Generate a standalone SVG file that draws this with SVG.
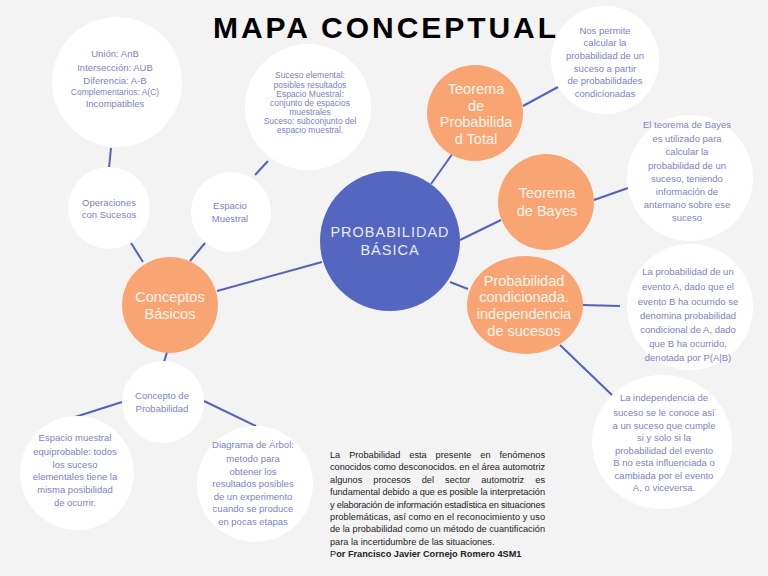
<svg xmlns="http://www.w3.org/2000/svg" width="768" height="576" viewBox="0 0 768 576">
<style>
.w{fill:#ffffff}
.o{fill:#f9a573}
.b{fill:#5566c1}
.t{font-family:"Liberation Sans",Arial,sans-serif;fill:#7d83c3;text-anchor:middle}
.s{font-size:9.5px}
.xs{font-size:8.5px}
.big{font-family:"Liberation Sans",Arial,sans-serif;fill:#fff4ec;text-anchor:middle;font-size:14.5px}
.p{font-family:"Liberation Sans",Arial,sans-serif;fill:#222222;font-size:9.2px}
#connectors line{stroke:#5462b8;stroke-width:2}
</style>
<rect width="768" height="576" fill="#f3f3f3"/>
<text x="213" y="38" font-family="Liberation Sans,Arial,sans-serif" font-weight="900" font-size="30" fill="#000" textLength="343" lengthAdjust="spacing">MAPA CONCEPTUAL</text>

<g id="connectors">
<line x1="111" y1="148" x2="109" y2="168"/>
<line x1="131" y1="243" x2="143" y2="262"/>
<line x1="205" y1="243" x2="190" y2="261"/>
<line x1="255" y1="175" x2="268" y2="161"/>
<line x1="217" y1="291" x2="322" y2="262"/>
<line x1="167" y1="352" x2="164" y2="362"/>
<line x1="122" y1="402" x2="75" y2="417"/>
<line x1="204" y1="401" x2="256" y2="426"/>
<line x1="431" y1="184" x2="453" y2="153"/>
<line x1="523" y1="106" x2="558" y2="87"/>
<line x1="460" y1="240" x2="501" y2="220"/>
<line x1="594" y1="200" x2="628" y2="188"/>
<line x1="450" y1="282" x2="468" y2="289"/>
<line x1="582" y1="305" x2="620" y2="306"/>
<line x1="560" y1="345" x2="613" y2="396"/>
</g>

<g id="union">
<circle class="w" cx="117" cy="82" r="65"/>
<text class="t s" x="115" y="57">Unión: AnB</text>
<text class="t s" x="115" y="71">Intersección: AUB</text>
<text class="t s" x="115" y="84">Diferencia: A-B</text>
<text class="t xs" x="115" y="95">Complementarios: A(C)</text>
<text class="t s" x="115" y="107">Incompatibles</text>
</g>

<g id="suceso">
<circle class="w" cx="308" cy="107" r="63"/>
<text class="t xs" x="310" y="78">Suceso elemental:</text>
<text class="t xs" x="310" y="88">posibles resultados</text>
<text class="t xs" x="310" y="97">Espacio Muestral:</text>
<text class="t xs" x="310" y="106">conjunto de espacios</text>
<text class="t xs" x="310" y="115">muestrales</text>
<text class="t xs" x="310" y="124">Suceso: subconjunto del</text>
<text class="t xs" x="310" y="133">espacio muestral.</text>
</g>

<g id="operaciones">
<circle class="w" cx="109" cy="208" r="41"/>
<text class="t s" x="109" y="206">Operaciones</text>
<text class="t s" x="109" y="218">con Sucesos</text>
</g>

<g id="espacio">
<circle class="w" cx="231" cy="212" r="40"/>
<text class="t s" x="230" y="209">Espacio</text>
<text class="t s" x="230" y="222">Muestral</text>
</g>

<g id="conceptos">
<circle class="o" cx="170" cy="305" r="48"/>
<text class="big" x="170" y="302">Conceptos</text>
<text class="big" x="170" y="319">Básicos</text>
</g>

<g id="concepto-prob">
<circle class="w" cx="163" cy="402" r="41"/>
<text class="t s" x="162" y="399">Concepto de</text>
<text class="t s" x="162" y="412">Probabilidad</text>
</g>

<g id="equiprobable">
<circle class="w" cx="77" cy="473" r="57"/>
<text class="t s" x="75" y="441">Espacio muestral</text>
<text class="t s" x="75" y="455">equiprobable: todos</text>
<text class="t s" x="75" y="468">los suceso</text>
<text class="t s" x="75" y="480">elementales tiene la</text>
<text class="t s" x="75" y="493">misma posibilidad</text>
<text class="t s" x="75" y="506">de ocurrir.</text>
</g>

<g id="arbol">
<circle class="w" cx="255" cy="484" r="58"/>
<text class="t s" x="253" y="448">Diagrama de Árbol:</text>
<text class="t s" x="253" y="462">metodo para</text>
<text class="t s" x="253" y="475">obtener los</text>
<text class="t s" x="253" y="487">resultados posibles</text>
<text class="t s" x="253" y="500">de un experimento</text>
<text class="t s" x="253" y="512">cuando se produce</text>
<text class="t s" x="253" y="525">en pocas etapas</text>
</g>

<g id="probabilidad-basica">
<circle class="b" cx="390" cy="241" r="70"/>
<text class="big" x="390" y="237" style="fill:#e6e9f8;letter-spacing:1px">PROBABILIDAD</text>
<text class="big" x="390" y="255" style="fill:#e6e9f8;letter-spacing:1px">BÁSICA</text>
</g>

<g id="total">
<circle class="o" cx="475" cy="113" r="48"/>
<text class="big" x="476" y="94">Teorema</text>
<text class="big" x="476" y="111">de</text>
<text class="big" x="476" y="127">Probabilida</text>
<text class="big" x="476" y="144">d Total</text>
</g>

<g id="nos-permite">
<circle class="w" cx="605" cy="60" r="54"/>
<text class="t s" x="605" y="34">Nos permite</text>
<text class="t s" x="605" y="46">calcular la</text>
<text class="t s" x="605" y="59">probabilidad de un</text>
<text class="t s" x="605" y="72">suceso  a partir</text>
<text class="t s" x="605" y="84">de probabilidades</text>
<text class="t s" x="605" y="97">condicionadas</text>
</g>

<g id="bayes">
<circle class="o" cx="546" cy="202" r="48"/>
<text class="big" x="547" y="198">Teorema</text>
<text class="big" x="547" y="216">de Bayes</text>
</g>

<g id="bayes-def">
<circle class="w" cx="690" cy="178" r="63"/>
<text class="t s" x="687" y="128">El teorema de Bayes</text>
<text class="t s" x="687" y="142">es utilizado para</text>
<text class="t s" x="687" y="155">calcular la</text>
<text class="t s" x="687" y="169">probabilidad de un</text>
<text class="t s" x="687" y="182">suceso, teniendo</text>
<text class="t s" x="687" y="195">información de</text>
<text class="t s" x="687" y="208">antemano sobre ese</text>
<text class="t s" x="687" y="221">suceso</text>
</g>

<g id="condicionada">
<ellipse class="o" cx="525" cy="305" rx="58" ry="49"/>
<text class="big" x="524" y="286">Probabilidad</text>
<text class="big" x="524" y="302">condicionada.</text>
<text class="big" x="524" y="319">independencia</text>
<text class="big" x="524" y="336">de sucesos</text>
</g>

<g id="condicional-def">
<circle class="w" cx="690" cy="307" r="63"/>
<text class="t s" x="688" y="275">La probabilidad de un</text>
<text class="t s" x="688" y="290">evento A, dado que el</text>
<text class="t s" x="688" y="305">evento B ha ocurrido se</text>
<text class="t s" x="688" y="319">denomina probabilidad</text>
<text class="t s" x="688" y="333">condicional de A, dado</text>
<text class="t s" x="688" y="347">que B ha ocurrido,</text>
<text class="t s" x="688" y="361">denotada por P(A|B)</text>
</g>

<g id="independencia-def">
<ellipse class="w" cx="662" cy="442" rx="70" ry="67"/>
<text class="t s" x="664" y="401">La independencia de</text>
<text class="t s" x="664" y="416">suceso se le conoce así</text>
<text class="t s" x="664" y="429">a un suceso que cumple</text>
<text class="t s" x="664" y="441">si y solo si la</text>
<text class="t s" x="664" y="454">probabilidad del evento</text>
<text class="t s" x="664" y="466">B no esta influenciada o</text>
<text class="t s" x="664" y="479">cambiada por el evento</text>
<text class="t s" x="664" y="491">A, o viceversa.</text>
</g>

<g id="parrafo">
<text class="p" x="330" y="458" word-spacing="6.4" textLength="215" lengthAdjust="spacing">La Probabilidad esta presente en fenómenos</text>
<text class="p" x="330" y="470" textLength="215" lengthAdjust="spacing">conocidos como desconocidos. en el área automotriz</text>
<text class="p" x="330" y="483" word-spacing="8.5" textLength="215" lengthAdjust="spacing">algunos procesos del sector automotriz es</text>
<text class="p" x="330" y="495" textLength="215" lengthAdjust="spacing">fundamental debido a que es posible la interpretación</text>
<text class="p" x="330" y="508" textLength="215" lengthAdjust="spacing">y elaboración de información estadística en situaciones</text>
<text class="p" x="330" y="520" textLength="215" lengthAdjust="spacing">problemáticas, así como en el reconocimiento y uso</text>
<text class="p" x="330" y="532" textLength="215" lengthAdjust="spacing">de la probabilidad como un método de cuantificación</text>
<text class="p" x="330" y="545">para la incertidumbre de las situaciones.</text>
<text class="p" x="330" y="557">P<tspan font-weight="bold">or Francisco Javier Cornejo Romero 4SM1</tspan></text>
</g>
</svg>
